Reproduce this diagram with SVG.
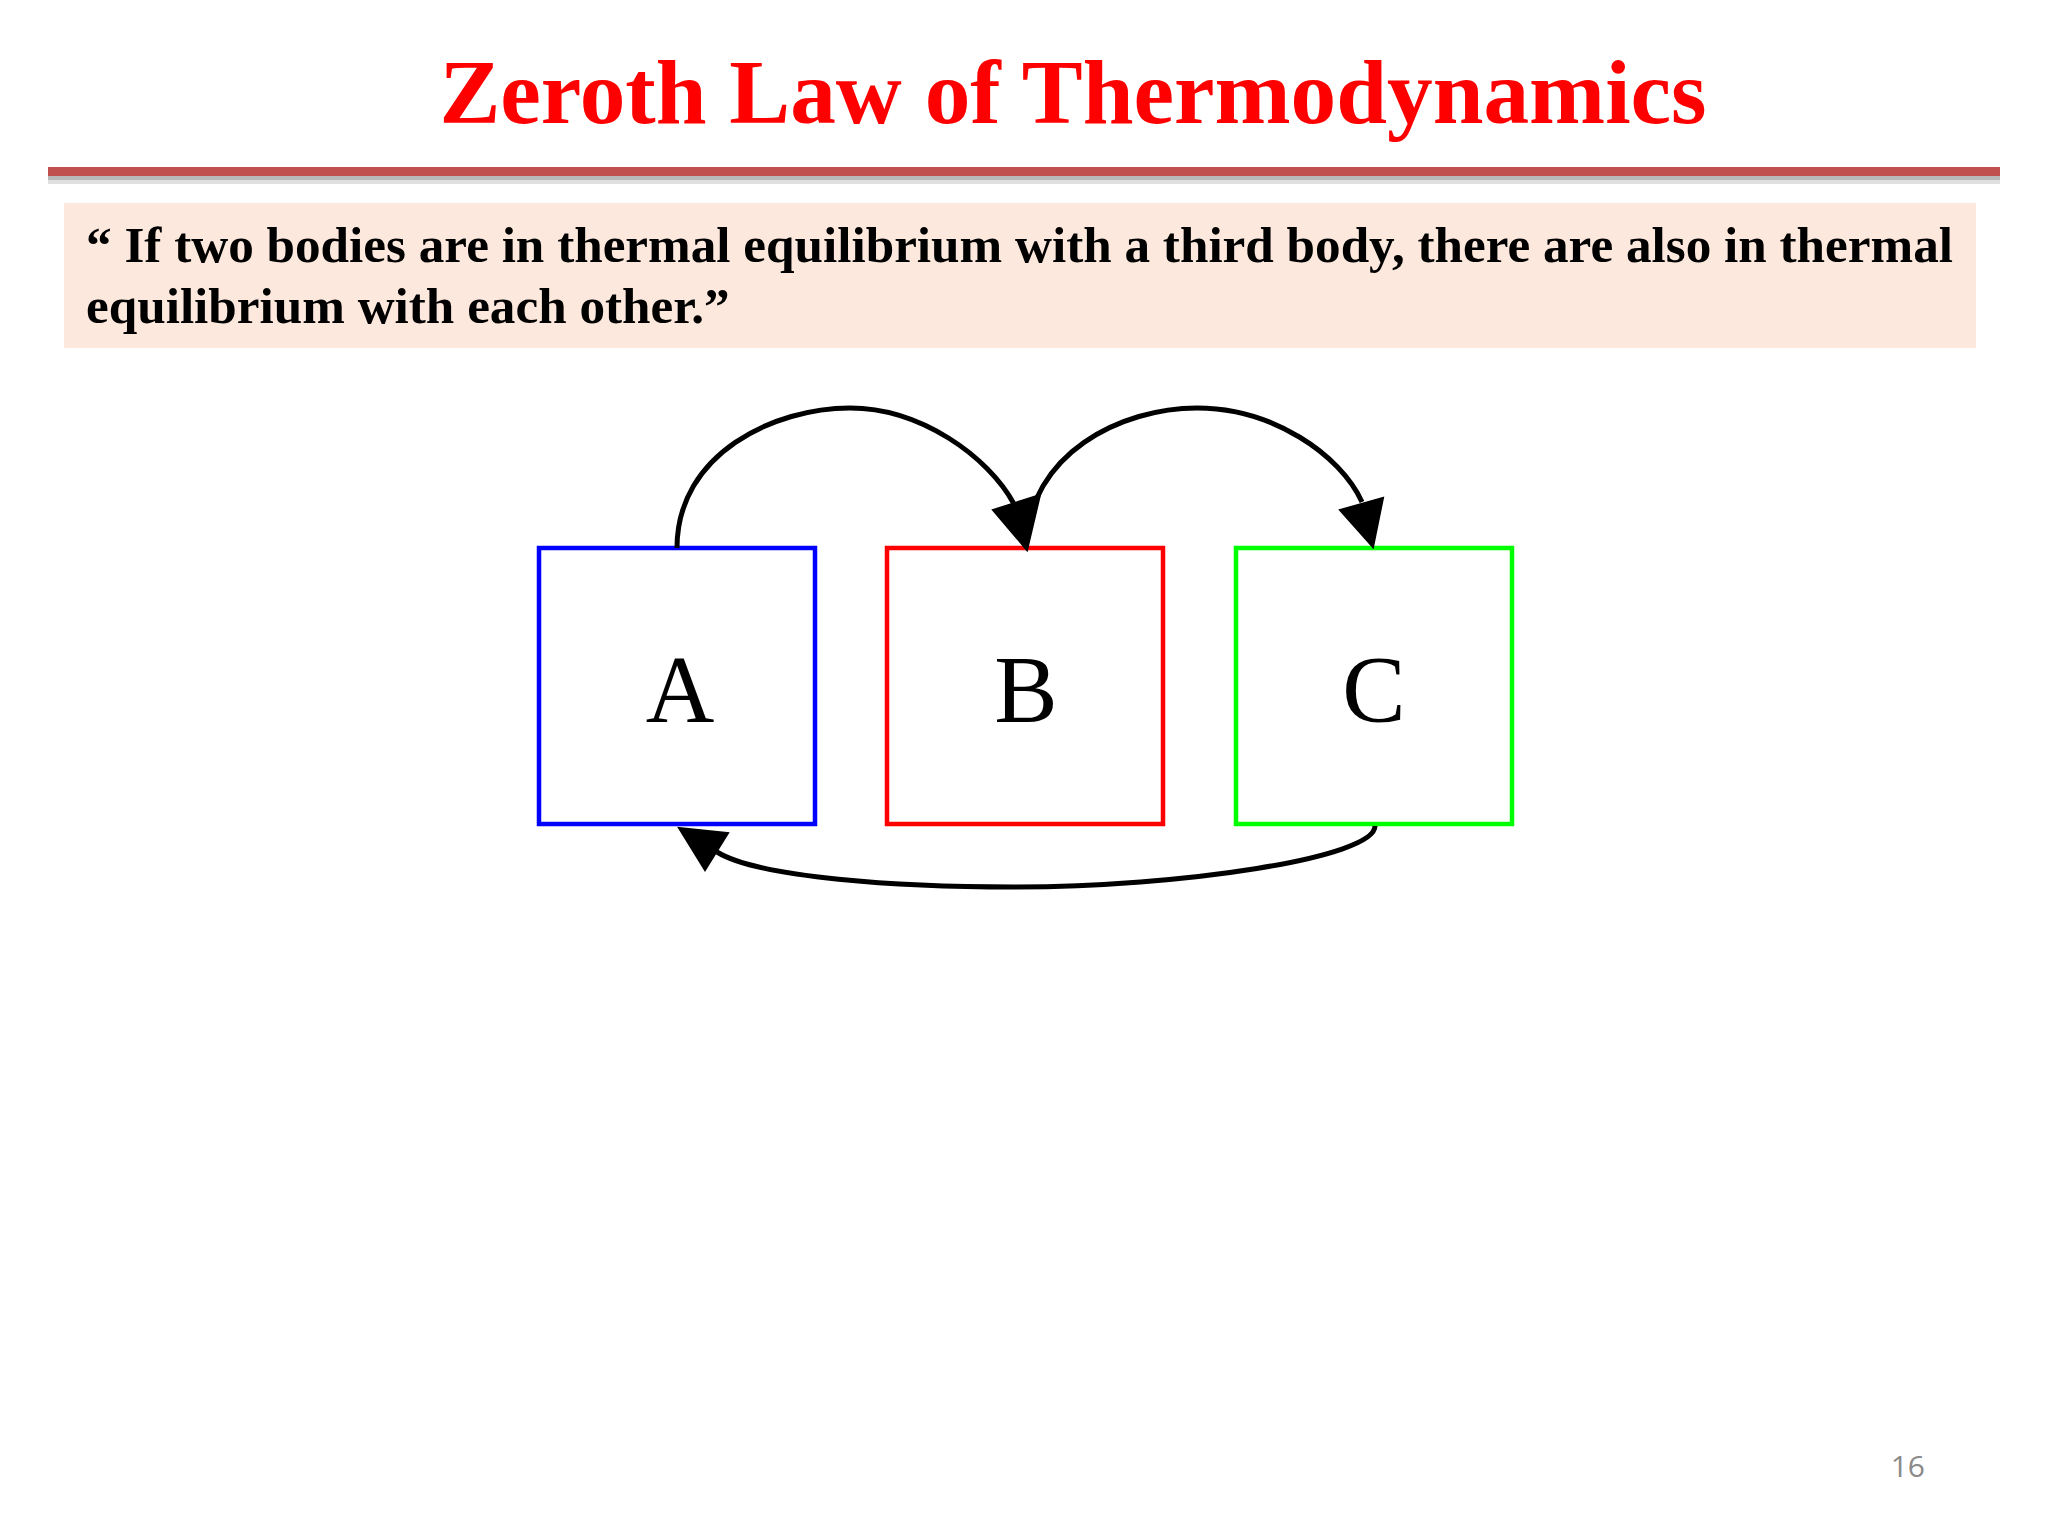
<svg xmlns="http://www.w3.org/2000/svg" width="2048" height="1536" viewBox="0 0 2048 1536">
<defs>
<style>
.title{font-family:"Liberation Serif","Times New Roman",serif;font-weight:bold;font-size:91.3px;fill:#ff0000}
.quote{font-family:"Liberation Serif","Times New Roman",serif;font-weight:bold;font-size:51.2px;fill:#000000}
.lbl{font-family:"Liberation Serif","Times New Roman",serif;font-size:95px;fill:#000000;text-anchor:middle}
.box{fill:none;stroke-width:4.5}
.edge{fill:none;stroke:#000000;stroke-width:5}
.head{fill:#000000;stroke:#000000;stroke-width:2;stroke-linejoin:miter}
.pg{font-family:"Open Sans","Liberation Sans",sans-serif;font-size:30px;fill:#8a8a8a;text-anchor:end}
</style>
</defs>
<rect x="0" y="0" width="2048" height="1536" fill="#ffffff"/>
<g id="header">
<text class="title" x="1073" y="123" text-anchor="middle">Zeroth Law of Thermodynamics</text>
<rect x="48" y="176" width="1952" height="4" fill="#b9b9b9"/>
<rect x="48" y="180" width="1952" height="4" fill="#e0e0e0"/>
<rect x="48" y="167" width="1952" height="9" fill="#c0504d"/>
</g>
<g id="quote">
<rect x="64" y="203" width="1912" height="145" fill="#fce8dc"/>
<text class="quote" x="86" y="262">“ If two bodies are in thermal equilibrium with a third body, there are also in thermal</text>
<text class="quote" x="86" y="323">equilibrium with each other.”</text>
</g>
<g id="node-A">
<rect class="box" x="539" y="548" width="276" height="276" stroke="#0000ff"/>
<text class="lbl" x="680" y="722">A</text>
</g>
<g id="node-B">
<rect class="box" x="887" y="548" width="276" height="276" stroke="#ff0000"/>
<text class="lbl" x="1026" y="722">B</text>
</g>
<g id="node-C">
<rect class="box" x="1236" y="548" width="276" height="276" stroke="#00ff00"/>
<text class="lbl" x="1374" y="722">C</text>
</g>
<g id="connectors">
<path class="edge" d="M677,548 C677,453 775,408 850,408 C920,408 988,456 1014,504"/>
<polygon class="head" points="1027,550 993,510 1040,495"/>
<path class="edge" d="M1026,548 C1028,453 1122,408 1197,408 C1272,408 1340,454 1362,502"/>
<polygon class="head" points="1373,547 1340,510 1383,498"/>
<path class="edge" d="M1375,826 C1375,858 1180,887 1014,887 C900,887 759,878 717,852"/>
<polygon class="head" points="679,828 728,833 705,870"/>
</g>
<g id="page-number">
<text class="pg" x="1925" y="1477">16</text>
</g>
</svg>
